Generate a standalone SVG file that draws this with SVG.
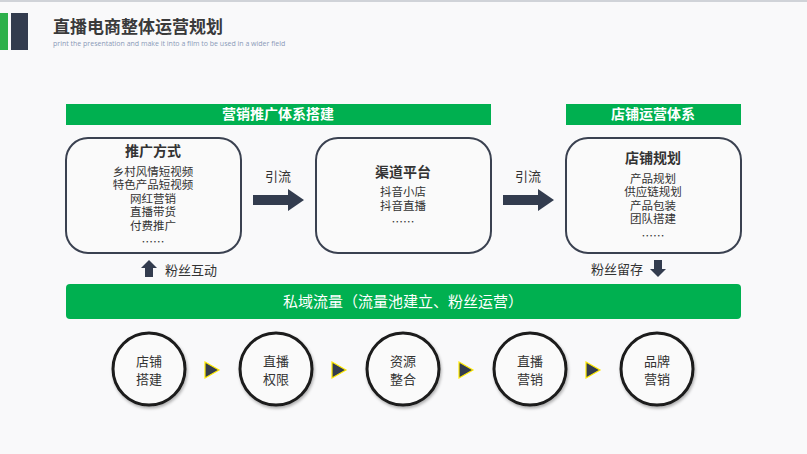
<svg xmlns="http://www.w3.org/2000/svg" width="807" height="454" viewBox="0 0 807 454">
<defs>
<style>
text{font-family:"Noto Sans CJK SC","Noto Sans",sans-serif;fill:#333;text-anchor:middle}
.box{fill:#fafafa;stroke:#3a4150;stroke-width:2}
.circ{fill:#fafafa;stroke:#1a1a1a;stroke-width:3}
.tri{fill:#333c4e;stroke:#ffea00;stroke-width:1.2}
.bar{fill:#00b050}
.arr{fill:#333c4e}
.t13{font-size:11.5px}
.h{font-size:14px;font-weight:bold}
.wt{fill:#fff;font-weight:bold;font-size:14px}
</style>
<filter id="sh" x="-20%" y="-20%" width="140%" height="140%"><feDropShadow dx="1" dy="2" stdDeviation="1.5" flood-opacity="0.3"/></filter>
</defs>
<rect width="807" height="454" fill="#f9f9fa"/>
<rect width="807" height="2" fill="#d0d3d8"/>
<g id="header">
<rect x="0" y="13" width="8" height="37" fill="#2db04b"/>
<rect x="11" y="13" width="17" height="37" fill="#333c4e"/>
<text x="53" y="33" style="text-anchor:start;font-size:17px;font-weight:bold;fill:#3a3a3a">直播电商整体运营规划</text>
<text x="53" y="46" style="text-anchor:start;font-size:7px;fill:#8a9ab8;font-family:'Open Sans',sans-serif">print the presentation and make it into a film to be used in a wider field</text>
</g>
<g id="banner1"><rect class="bar" x="66" y="104" width="425" height="21"/><text class="wt" x="278" y="119">营销推广体系搭建</text></g>
<g id="banner2"><rect class="bar" x="566" y="104" width="175" height="21"/><text class="wt" x="653" y="119">店铺运营体系</text></g>
<g id="node-promo">
<rect class="box" x="66" y="138" width="175" height="115" rx="22"/>
<text class="h" x="153" y="156">推广方式</text>
<text class="t13" x="153" y="176">乡村风情短视频</text>
<text class="t13" x="153" y="189">特色产品短视频</text>
<text class="t13" x="153" y="203">网红营销</text>
<text class="t13" x="153" y="216">直播带货</text>
<text class="t13" x="153" y="230">付费推广</text>
<text class="t13" x="153" y="246">……</text>
</g>
<g id="node-channel">
<rect class="box" x="316" y="138" width="175" height="115" rx="22"/>
<text class="h" x="403" y="177">渠道平台</text>
<text class="t13" x="403" y="196">抖音小店</text>
<text class="t13" x="403" y="210">抖音直播</text>
<text class="t13" x="403" y="226">……</text>
</g>
<g id="node-shop">
<rect class="box" x="566" y="138" width="175" height="115" rx="22"/>
<text class="h" x="653" y="163">店铺规划</text>
<text class="t13" x="653" y="183">产品规划</text>
<text class="t13" x="653" y="196">供应链规划</text>
<text class="t13" x="653" y="210">产品包装</text>
<text class="t13" x="653" y="223">团队搭建</text>
<text class="t13" x="653" y="240">……</text>
</g>
<g id="node-private">
<rect class="bar" x="66" y="284" width="675" height="35" rx="4"/>
<text x="403" y="307" style="fill:#fff;font-size:15px">私域流量（流量池建立、粉丝运营）</text>
</g>
<g id="connectors">
<polygon class="arr" points="253,195 288,195 288,189 304,200 288,211 288,205 253,205"/>
<text x="278" y="181" style="font-size:13px">引流</text>
<polygon class="arr" points="503,195 538,195 538,189 554,200 538,211 538,205 503,205"/>
<text x="528" y="181" style="font-size:13px">引流</text>
<polygon class="arr" points="145,277 145,268 141,268 149,260 157,268 153,268 153,277"/>
<text x="191" y="275" style="font-size:13px">粉丝互动</text>
<polygon class="arr" points="654,260 654,269 650,269 658,277 666,269 662,269 662,260"/>
<text x="617" y="274" style="font-size:13px">粉丝留存</text>
<polygon class="tri" points="205,362 205,378 219,370"/>
<polygon class="tri" points="332,362 332,378 346,370"/>
<polygon class="tri" points="459,362 459,378 473,370"/>
<polygon class="tri" points="586,362 586,378 600,370"/>
</g>
<g id="c1"><circle class="circ" cx="149" cy="369" r="36" filter="url(#sh)"/><text x="149" y="366" style="font-size:13px">店铺</text><text x="149" y="384" style="font-size:13px">搭建</text></g>
<g id="c2"><circle class="circ" cx="276" cy="369" r="36" filter="url(#sh)"/><text x="276" y="366" style="font-size:13px">直播</text><text x="276" y="384" style="font-size:13px">权限</text></g>
<g id="c3"><circle class="circ" cx="403" cy="369" r="36" filter="url(#sh)"/><text x="403" y="366" style="font-size:13px">资源</text><text x="403" y="384" style="font-size:13px">整合</text></g>
<g id="c4"><circle class="circ" cx="530" cy="369" r="36" filter="url(#sh)"/><text x="530" y="366" style="font-size:13px">直播</text><text x="530" y="384" style="font-size:13px">营销</text></g>
<g id="c5"><circle class="circ" cx="657" cy="369" r="36" filter="url(#sh)"/><text x="657" y="366" style="font-size:13px">品牌</text><text x="657" y="384" style="font-size:13px">营销</text></g>
</svg>
